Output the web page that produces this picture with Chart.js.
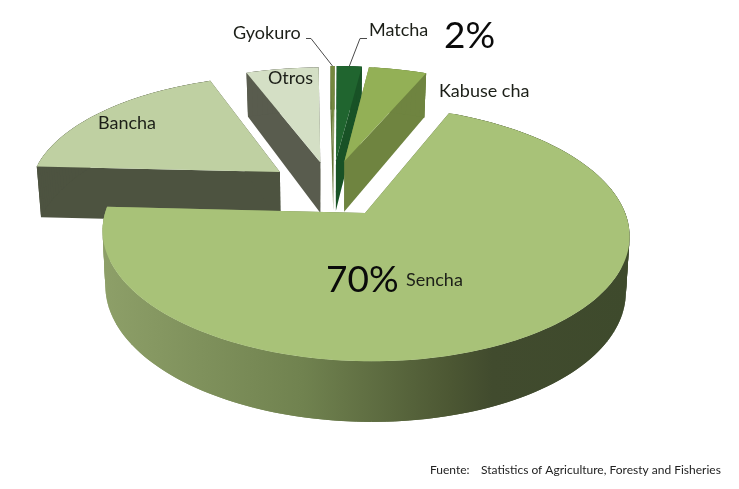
<html>

<head>
	<script src="https://cdn.jsdelivr.net/npm/chart.js"></script>
	<title>Tea production in Japan</title>
	<style>
		body { margin: 0; background: #ffffff; }
		canvas { display: block; }
	</style>
</head>

<body>
<canvas id="chart-1" width="739" height="489"></canvas>

<script>
  const categories = ['Sencha', 'Bancha', 'Otros', 'Gyokuro', 'Matcha', 'Kabuse cha'];
  const shares = [69.4, 18.5, 5.5, 0.3, 1.9, 4.4];
  const percentLabels = ['70%', '', '', '', '2%', ''];
  const sourceLabel = 'Fuente:';
  const sourceText = 'Statistics of Agriculture, Foresty and Fisheries';

  // slice styling
  const topColors = ['#a8c278', '#bfd0a2', '#d4dfc5', '#75883f', '#20652f', '#93b056'];
  const wallColors = ['#6f8050', '#4d5340', '#595c4e', '#66773a', '#185226', '#6f8440'];
  const explode = [0.265, 0.24, 0.205, 0.22, 0.22, 0.22];
  const nudgeX = [1, 0, 2, 6, 5, 3];
  const nudgeY = [1, 3, 0, 0, 0, 0];
  const paintOrder = [1, 2, 3, 4, 5, 0];   // far slices first

  // perspective of the tilted disc
  const CX = 327.5, Y0 = 185, RX = 251, RY = 116, PERSP = 0.155;

  function project(arc, i, angle, r, low) {
    const mid = (arc.startAngle + arc.endAngle) / 2;
    const u = explode[i] * Math.cos(mid) + r * Math.cos(angle);
    const v = explode[i] * Math.sin(mid) + r * Math.sin(angle);
    const den = 1 - PERSP * v;
    let x = CX + RX * u / den + nudgeX[i];
    let y = Y0 + RY * v / den + nudgeY[i];
    if (low) {
      x = CX + (x - CX) * (0.986 + 0.004 * v);
      y += 52 + 7 * v;
    }
    return { x: x, y: y };
  }

  function arcPoints(arc, i, low) {
    const pts = [];
    const steps = Math.max(4, Math.ceil((arc.endAngle - arc.startAngle) * 40));
    for (let s = 0; s <= steps; s++) {
      pts.push(project(arc, i, arc.startAngle + (arc.endAngle - arc.startAngle) * s / steps, 1, low));
    }
    return pts;
  }

  function fillPath(ctx, pts, color) {
    ctx.beginPath();
    pts.forEach((p, n) => n ? ctx.lineTo(p.x, p.y) : ctx.moveTo(p.x, p.y));
    ctx.closePath();
    ctx.fillStyle = color;
    ctx.fill();
  }

  function senchaWall(ctx) {
    const g = ctx.createLinearGradient(105, 0, 628, 0);
    g.addColorStop(0, '#8d9f68');
    g.addColorStop(0.38, '#70824f');
    g.addColorStop(0.66, '#4c5733');
    g.addColorStop(0.74, '#414b2e');
    g.addColorStop(1, '#3e4a2c');
    return g;
  }

  const tiltedPie = {
    id: 'tiltedPie',
    // the arcs keep their angles from the library, only the painting is replaced
    beforeDatasetDraw(chart) {
      const ctx = chart.ctx;
      const arcs = chart.getDatasetMeta(0).data;
      ctx.save();
      paintOrder.forEach(i => {
        const arc = arcs[i];
        const wall = i === 0 ? senchaWall(ctx) : wallColors[i];
        const apexTop = project(arc, i, 0, 0, false);
        const apexLow = project(arc, i, 0, 0, true);
        const top = arcPoints(arc, i, false);
        const low = arcPoints(arc, i, true);
        fillPath(ctx, [apexTop, top[0], low[0], apexLow], wall);
        fillPath(ctx, [apexTop, top[top.length - 1], low[low.length - 1], apexLow], wall);
        // overlapping quads, one big polygon cancels out past the ellipse's side
        for (let s = 0; s < top.length - 1; s++) {
          const e = Math.min(s + 2, top.length - 1);
          fillPath(ctx, [top[s], top[e], low[e], low[s]], wall);
        }
        fillPath(ctx, [apexTop].concat(top), topColors[i]);
      });
      ctx.restore();
      return false;
    },
    afterDatasetsDraw(chart) {
      const ctx = chart.ctx;
      const arcs = chart.getDatasetMeta(0).data;
      ctx.save();

      // leader lines for the two thin slices
      ctx.strokeStyle = '#4a4a4a';
      ctx.lineWidth = 1;
      [[3, 306, 311], [4, 367, 360]].forEach(([i, x0, x1]) => {
        const mid = (arcs[i].startAngle + arcs[i].endAngle) / 2;
        const end = project(arcs[i], i, mid, 1, false);
        ctx.beginPath();
        ctx.moveTo(x0, 38.5);
        ctx.lineTo(x1, 38.5);
        ctx.lineTo(end.x, end.y);
        ctx.stroke();
      });

      ctx.textBaseline = 'alphabetic';
      ctx.fillStyle = '#1c1f18';
      ctx.font = '18px Lato';
      ctx.fillText(categories[0], 406, 286);
      ctx.fillText(categories[1], 98, 129);
      ctx.fillText(categories[2], 268, 84);
      ctx.fillText(categories[3], 233, 39);
      ctx.fillText(categories[4], 369, 36);
      ctx.fillText(categories[5], 439, 97);

      ctx.fillStyle = '#0a0a0a';
      ctx.font = '37px Lato';
      ctx.fillText(percentLabels[0], 326, 292);
      ctx.fillText(percentLabels[4], 444, 48);

      ctx.fillStyle = '#222222';
      ctx.font = '12px Lato';
      ctx.fillText(sourceLabel, 430, 474);
      ctx.fillText(sourceText, 481, 474);
      ctx.restore();
    }
  };

  const chart = new Chart(document.getElementById('chart-1'), {
    type: 'pie',
    data: {
      labels: categories,
      datasets: [{ data: shares, backgroundColor: topColors, borderWidth: 0 }]
    },
    options: {
      responsive: false,
      animation: false,
      rotation: 23,
      plugins: {
        legend: { display: false },
        tooltip: { enabled: false }
      }
    },
    plugins: [tiltedPie]
  });
</script>
</body>

</html>
